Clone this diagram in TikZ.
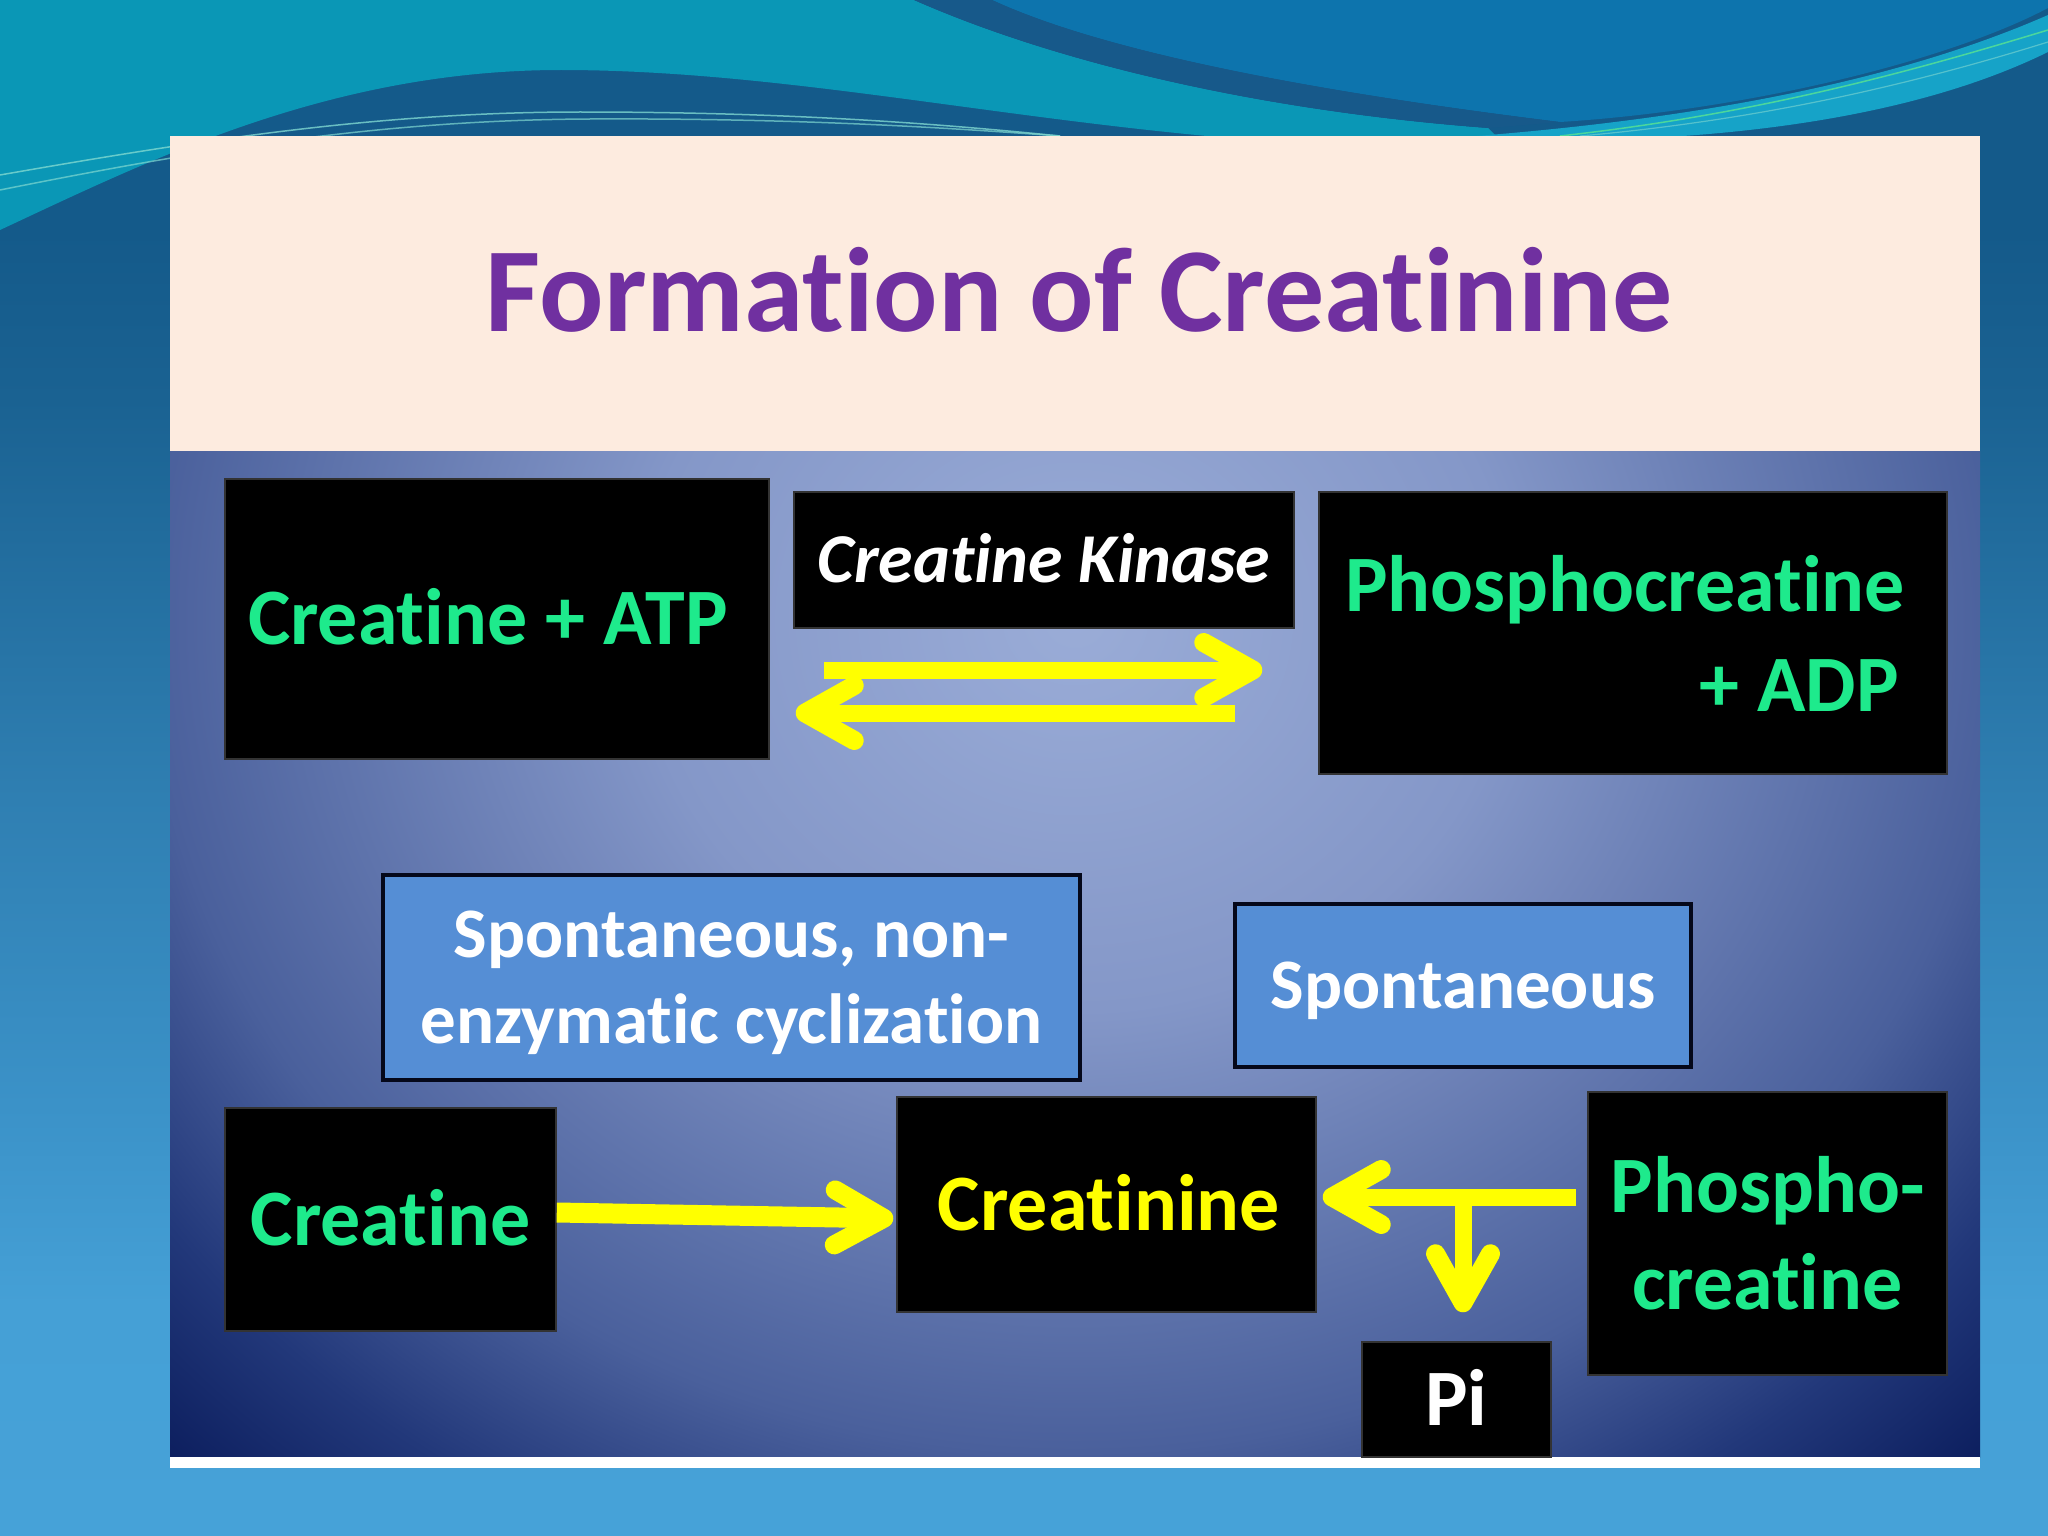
\documentclass[tikz,border=0pt]{standalone}
\usepackage{fontspec}
\setmainfont{Carlito}[RawFeature={-liga;-dlig;-clig}]
\usetikzlibrary{arrows.meta}
\definecolor{bgA}{HTML}{46A2D8}
\definecolor{bgB}{HTML}{45A0D6}
\definecolor{bgC}{HTML}{3B92C8}
\definecolor{bgD}{HTML}{2F7FB2}
\definecolor{bgE}{HTML}{1A6292}
\definecolor{bgF}{HTML}{145A8A}
\definecolor{tealbg}{HTML}{0A97B6}
\definecolor{midblue}{HTML}{0D74AD}
\definecolor{ribbon}{HTML}{17598A}
\definecolor{cyanband}{HTML}{16A3C8}
\definecolor{thinline}{HTML}{7FD8D0}
\definecolor{peach}{HTML}{FDEBDF}
\definecolor{glowA}{HTML}{9AACD7}
\definecolor{glowB}{HTML}{8497C8}
\definecolor{glowC}{HTML}{4A609C}
\definecolor{glowD}{HTML}{22387A}
\definecolor{glowE}{HTML}{0C1E5E}
\definecolor{grn}{RGB}{30,234,140}
\definecolor{yel}{HTML}{FFFF00}
\definecolor{titlepurple}{HTML}{7030A0}
\definecolor{boxblue}{HTML}{558ED5}
\definecolor{boxedge}{HTML}{05081A}
% TikZ maps the central 50bp of a 100bp shading onto the path's bounding box
\pgfdeclareverticalshading{bgv}{100bp}{color(0bp)=(bgA); color(25bp)=(bgA); color(32.5bp)=(bgB); color(39bp)=(bgC); color(49bp)=(bgD); color(62bp)=(bgE); color(67.5bp)=(bgF); color(100bp)=(bgF)}
\pgfdeclareradialshading{glow}{\pgfpoint{0bp}{0bp}}{color(0bp)=(glowA); color(7.5bp)=(glowB); color(16bp)=(glowC); color(19.5bp)=(glowD); color(22.5bp)=(glowE); color(50bp)=(glowE)}
\newcommand\Ti{t\kern0pt i}
\newcommand\fontTitle{\bfseries\fontsize{120pt}{140pt}\selectfont}
\newcommand\fontGreen{\bfseries\fontsize{80pt}{97pt}\selectfont}
\newcommand\fontGreenB{\bfseries\fontsize{80pt}{100pt}\selectfont}
\newcommand\fontBlue{\bfseries\fontsize{71pt}{86pt}\selectfont}
\newcommand\fontKin{\bfseries\itshape\fontsize{70pt}{85pt}\selectfont}
\begin{document}
\begin{tikzpicture}[x=1pt,y=-1pt,
  blk/.style={fill=black, draw=black!80!white, line width=1.5pt, inner sep=0pt, text=grn, font=\fontGreen, align=center},
  oneline/.style={text height=51.5pt, text depth=0pt},
  bluebx/.style={fill=boxblue, draw=boxedge, line width=4pt, inner sep=0pt, text=white, font=\fontBlue, align=center},
  yarrow/.style={draw=yel, line width=17pt, -{Straight Barb[length=49pt, width=55pt, line width=19pt, round]}}]
\useasboundingbox (0,0) rectangle (2048,1536);
% background
\shade[shading=bgv] (0,0) rectangle (2048,1536);
\fill[tealbg] (0,0) -- (914,0) .. controls (1050,60) and (1250,110) .. (1488,128) -- (1500,140) -- (1253,140) .. controls (1000,120) and (780,70) .. (561,70) .. controls (330,70) and (150,160) .. (0,230) -- cycle;
\fill[midblue] (992,0) .. controls (1100,50) and (1300,90) .. (1560,122) .. controls (1750,110) and (1950,60) .. (2048,8) -- (2048,0) -- cycle;
\fill[ribbon] (914,0) .. controls (1050,60) and (1250,110) .. (1488,128) -- (1560,122) .. controls (1300,90) and (1100,50) .. (992,0) -- cycle;
\fill[cyanband] (1450,138) .. controls (1700,120) and (1900,80) .. (2048,15) -- (2048,52) .. controls (1920,115) and (1750,136) .. (1600,140) -- cycle;
\draw[thinline, line width=1.5pt, opacity=0.8] (0,175) .. controls (200,140) and (380,112) .. (580,112) .. controls (800,112) and (950,125) .. (1060,136);
\draw[thinline, line width=1.5pt, opacity=0.7] (0,190) .. controls (200,150) and (380,120) .. (590,119) .. controls (800,118) and (950,128) .. (1060,136);
\draw[thinline!70!green, line width=1.5pt, opacity=0.8] (1560,136) .. controls (1750,115) and (1900,75) .. (2048,30);
\draw[thinline, line width=1.2pt, opacity=0.6] (1580,136) .. controls (1760,120) and (1910,85) .. (2048,42);
% slide
\fill[peach] (170,136) rectangle (1980,451);
\fill[glowE] (170,451) rectangle (1980,1457);
\begin{scope}
\clip (170,451) rectangle (1980,1457);
\shade[shading=glow] (1075,620) ellipse [x radius=1450pt, y radius=1300pt];
\end{scope}
\fill[white] (170,1457) rectangle (1980,1468);
% title
\node[font=\fontTitle, text=titlepurple, text height=78pt, text depth=0pt, inner sep=0pt] (title) at (1079,292) {Forma\Ti{}on of Crea\Ti{}nine};
% boxes
\node[blk, oneline, minimum width=544pt, minimum height=280pt] (atp) at (497,619) {Crea\Ti{}ne + ATP\kern18pt};
\node[blk, text=white, font=\fontKin, text height=45pt, text depth=0pt, minimum width=500pt, minimum height=136pt] (ck) at (1044,560) {Crea\Ti{}ne Kinase};
\node[blk, font=\fontGreenB, align=right, minimum width=628pt, minimum height=282pt] (pcr) at (1633,633) {Phosphocrea\Ti{}ne\kern16pt\\+ ADP\kern22pt};
\node[bluebx, minimum width=697pt, minimum height=205pt] (spon1) at (731.5,977.5) {\rule{0pt}{58pt}Spontaneous, non-\\enzyma\Ti{}c cycliza\Ti{}on};
\node[bluebx, text height=45.5pt, text depth=0pt, minimum width=456pt, minimum height=163pt] (spon2) at (1463,985.5) {Spontaneous};
\node[blk, oneline, minimum width=331pt, minimum height=223pt] (cre) at (390.5,1219.5) {Crea\Ti{}ne};
\node[blk, oneline, text=yel, minimum width=419pt, minimum height=215pt] (crn) at (1106.5,1204.5) {\kern5pt Crea\Ti{}nine};
\node[blk, minimum width=359pt, minimum height=283pt] (phc) at (1767.5,1233.5) {Phospho-\\crea\Ti{}ne};
\node[blk, oneline, text=white, minimum width=189pt, minimum height=115pt] (pi) at (1456.5,1399.5) {Pi};
% arrows
\coordinate (r1) at (1000,670);
\coordinate (l1) at (1000,713);
\coordinate (jn) at (1463,1197);
\draw[yarrow, shorten <=54pt, shorten >=56pt] (atp.east |- r1) -- (pcr.west |- r1);
\draw[yarrow, shorten <=83pt, shorten >=26pt] (pcr.west |- l1) -- (atp.east |- l1);
\draw[yarrow, line width=20pt, shorten >=3pt] ([yshift=7pt]cre.east) -- ([yshift=-14pt]crn.west);
\draw[yarrow, shorten <=11pt, shorten >=6pt] (phc.west |- jn) -- (crn.east |- jn);
\draw[yarrow, shorten >=29pt] (jn) -- (jn |- pi.north);
\end{tikzpicture}
\end{document}
